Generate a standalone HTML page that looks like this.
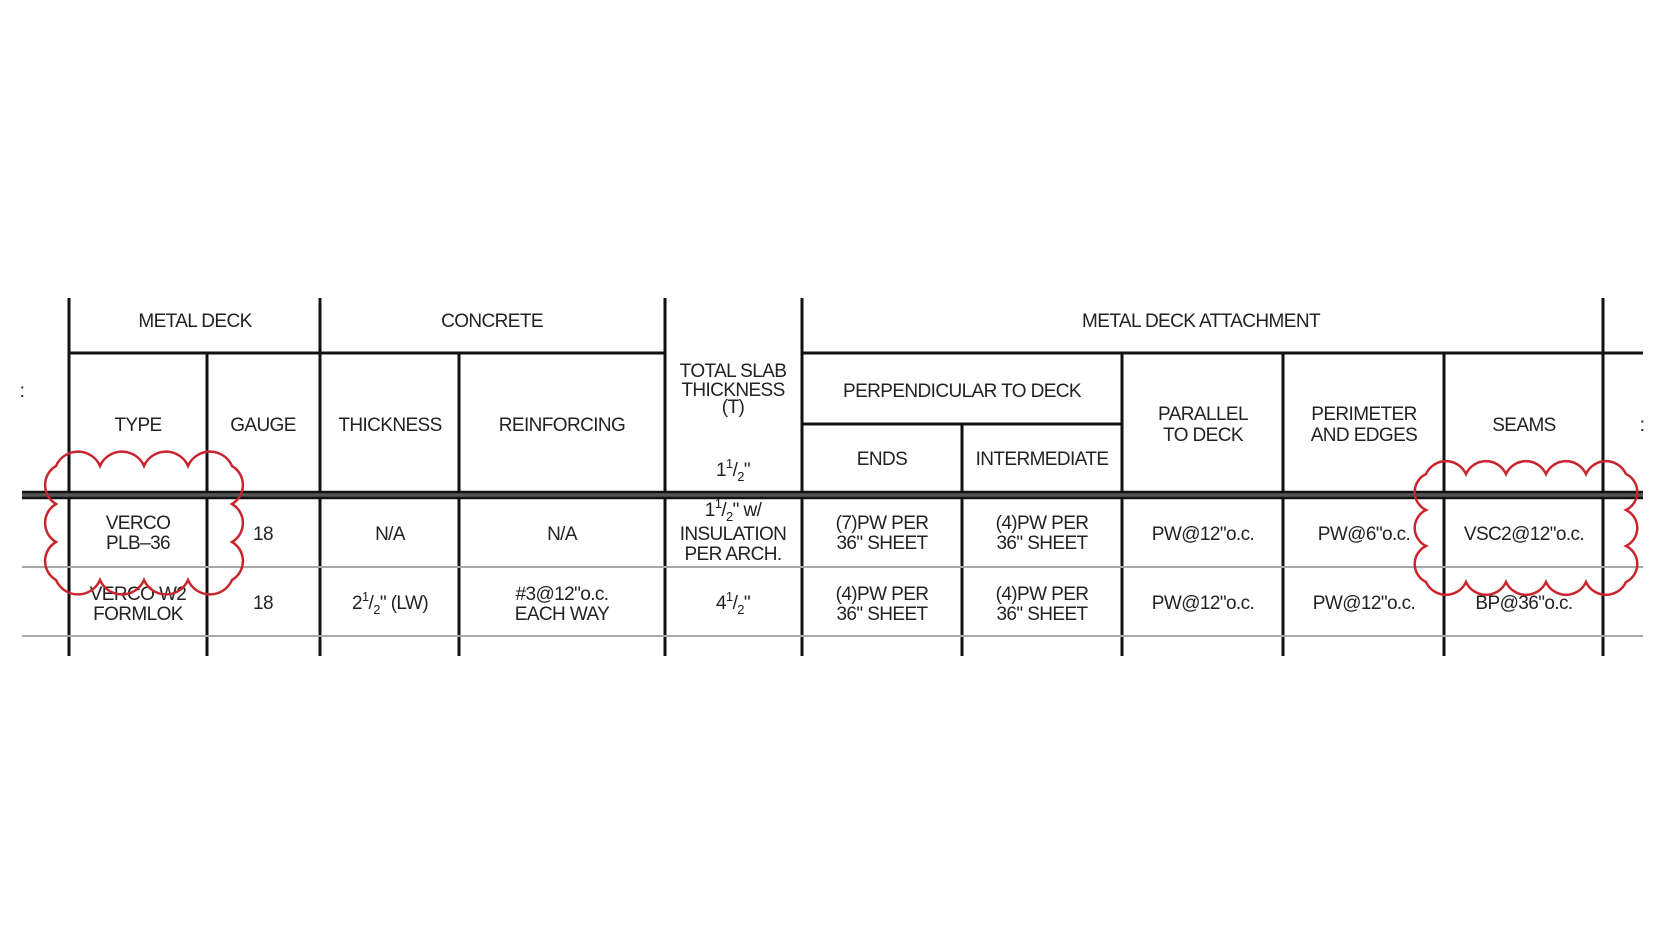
<!DOCTYPE html>
<html><head><meta charset="utf-8"><style>
html,body{margin:0;padding:0;background:#fff;}
svg{display:block}
text{font-family:"Liberation Sans Narrow","Liberation Sans",sans-serif;font-size:19px;letter-spacing:-0.6px;fill:#222;text-anchor:middle;}
.s{font-size:13px}
</style></head><body>
<svg width="1680" height="945" viewBox="0 0 1680 945">
<g stroke="#111" stroke-width="3">
<line x1="69" y1="298" x2="69" y2="656"/>
<line x1="320" y1="298" x2="320" y2="656"/>
<line x1="665" y1="298" x2="665" y2="656"/>
<line x1="802" y1="298" x2="802" y2="656"/>
<line x1="1603" y1="298" x2="1603" y2="656"/>
<line x1="207" y1="353" x2="207" y2="656"/>
<line x1="459" y1="353" x2="459" y2="656"/>
<line x1="962" y1="424" x2="962" y2="656"/>
<line x1="1122" y1="353" x2="1122" y2="656"/>
<line x1="1283" y1="353" x2="1283" y2="656"/>
<line x1="1444" y1="353" x2="1444" y2="656"/>
<line x1="69" y1="353" x2="665" y2="353"/>
<line x1="802" y1="353" x2="1643" y2="353"/>
<line x1="802" y1="424" x2="1122" y2="424"/>
</g>
<rect x="22" y="491" width="1621" height="8" fill="#555"/>
<line x1="22" y1="492" x2="1643" y2="492" stroke="#111" stroke-width="2.5"/>
<line x1="22" y1="498" x2="1643" y2="498" stroke="#111" stroke-width="2.5"/>
<line x1="22" y1="567" x2="1643" y2="567" stroke="#a8a8a8" stroke-width="2"/>
<line x1="22" y1="636" x2="1643" y2="636" stroke="#a8a8a8" stroke-width="2"/>

<text x="22" y="397">:</text>
<text x="1642" y="431">:</text>

<text x="195" y="327">METAL DECK</text>
<text x="492" y="327">CONCRETE</text>
<text x="1201" y="327">METAL DECK ATTACHMENT</text>
<text x="138" y="431">TYPE</text>
<text x="263" y="431">GAUGE</text>
<text x="390" y="431">THICKNESS</text>
<text x="562" y="431">REINFORCING</text>
<text x="733" y="377">TOTAL SLAB</text>
<text x="733" y="396">THICKNESS</text>
<text x="733" y="413">(T)</text>
<text x="733" y="476">1<tspan class="s" dy="-8">1</tspan><tspan dy="8">/</tspan><tspan class="s" dy="5">2</tspan><tspan dy="-5">"</tspan></text>
<text x="962" y="397">PERPENDICULAR TO DECK</text>
<text x="882" y="465">ENDS</text>
<text x="1042" y="465">INTERMEDIATE</text>
<text x="1203" y="420">PARALLEL</text>
<text x="1203" y="441">TO DECK</text>
<text x="1364" y="420">PERIMETER</text>
<text x="1364" y="441">AND EDGES</text>
<text x="1524" y="431">SEAMS</text>

<text x="138" y="529">VERCO</text>
<text x="138" y="549">PLB–36</text>
<text x="263" y="540">18</text>
<text x="390" y="540">N/A</text>
<text x="562" y="540">N/A</text>
<text x="733" y="516">1<tspan class="s" dy="-8">1</tspan><tspan dy="8">/</tspan><tspan class="s" dy="5">2</tspan><tspan dy="-5">" w/</tspan></text>
<text x="733" y="540">INSULATION</text>
<text x="733" y="560">PER ARCH.</text>
<text x="882" y="529">(7)PW PER</text>
<text x="882" y="549">36" SHEET</text>
<text x="1042" y="529">(4)PW PER</text>
<text x="1042" y="549">36" SHEET</text>
<text x="1203" y="540">PW@12"o.c.</text>
<text x="1364" y="540">PW@6"o.c.</text>
<text x="1524" y="540">VSC2@12"o.c.</text>

<text x="138" y="600">VERCO W2</text>
<text x="138" y="620">FORMLOK</text>
<text x="263" y="609">18</text>
<text x="390" y="609">2<tspan class="s" dy="-8">1</tspan><tspan dy="8">/</tspan><tspan class="s" dy="5">2</tspan><tspan dy="-5">" (LW)</tspan></text>
<text x="562" y="600">#3@12"o.c.</text>
<text x="562" y="620">EACH WAY</text>
<text x="733" y="609">4<tspan class="s" dy="-8">1</tspan><tspan dy="8">/</tspan><tspan class="s" dy="5">2</tspan><tspan dy="-5">"</tspan></text>
<text x="882" y="600">(4)PW PER</text>
<text x="882" y="620">36" SHEET</text>
<text x="1042" y="600">(4)PW PER</text>
<text x="1042" y="620">36" SHEET</text>
<text x="1203" y="609">PW@12"o.c.</text>
<text x="1364" y="609">PW@12"o.c.</text>
<text x="1524" y="609">BP@36"o.c.</text>

<g fill="none" stroke="#c8262c" stroke-width="2.5">
<path d="M56 466 a24 24 0 0 1 44 0 a24 24 0 0 1 44 0 a24 24 0 0 1 44 0 a24 24 0 0 1 44 0
 a22 22 0 0 1 0 38 a22 22 0 0 1 0 38 a22 22 0 0 1 0 38
 a24 24 0 0 1 -44 0 a24 24 0 0 1 -44 0 a24 24 0 0 1 -44 0 a24 24 0 0 1 -44 0
 a22 22 0 0 1 0 -38 a22 22 0 0 1 0 -38 a22 22 0 0 1 0 -38 Z"/>
<path d="M1426 474 a22 22 0 0 1 40 0 a22 22 0 0 1 40 0 a22 22 0 0 1 40 0 a22 22 0 0 1 40 0 a22 22 0 0 1 40 0
 a20 20 0 0 1 0 36 a20 20 0 0 1 0 36 a20 20 0 0 1 0 36
 a22 22 0 0 1 -40 0 a22 22 0 0 1 -40 0 a22 22 0 0 1 -40 0 a22 22 0 0 1 -40 0 a22 22 0 0 1 -40 0
 a20 20 0 0 1 0 -36 a20 20 0 0 1 0 -36 a20 20 0 0 1 0 -36 Z"/>
</g>
</svg>
</body></html>
